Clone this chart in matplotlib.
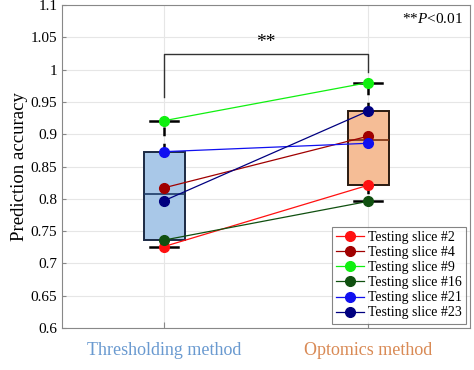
import numpy as np
import matplotlib
matplotlib.use('Agg')
import matplotlib.pyplot as plt

plt.rcParams['font.family'] = ['Liberation Serif', 'DejaVu Serif']
plt.rcParams['mathtext.fontset'] = 'custom'
plt.rcParams['mathtext.it'] = 'Liberation Serif:italic'
plt.rcParams['mathtext.rm'] = 'Liberation Serif'

# Data
methods = ['Thresholding method', 'Optomics method']
slices = ['Testing slice #2', 'Testing slice #4', 'Testing slice #9',
          'Testing slice #16', 'Testing slice #21', 'Testing slice #23']
thresholding = [0.726, 0.817, 0.921, 0.736, 0.873, 0.797]
optomics = [0.821, 0.897, 0.980, 0.796, 0.886, 0.936]
slice_colors = ['#ff1010', '#a00000', '#10f010', '#105010', '#1010f0', '#000080']

box_fill = ['#a9c8e8', '#f5bd96']
box_edge = ['#1c2a44', '#2a1a10']
median_col = ['#1c3a66', '#7a3010']
label_col = ['#6a9ad0', '#d98a55']

fig = plt.figure(figsize=(4.74, 3.70), dpi=100)
ax = fig.add_axes([0.131, 0.114, 0.861, 0.872])

pos = [1, 2]
for k, vals in enumerate([thresholding, optomics]):
    v = np.array(vals)
    # MATLAB-style quartiles
    q1, med, q3 = np.percentile(v, [25, 50, 75], method='hazen')
    stats = [dict(med=med, q1=q1, q3=q3, whislo=v.min(), whishi=v.max(), fliers=[])]
    ax.bxp(stats, positions=[pos[k]], widths=0.2, patch_artist=True,
           boxprops=dict(facecolor=box_fill[k], edgecolor=box_edge[k], linewidth=1.4),
           medianprops=dict(color=median_col[k], linewidth=1.2),
           whiskerprops=dict(color='black', linestyle=(0, (3.5, 3)), linewidth=1.8),
           capprops=dict(color='black', linewidth=1.8), capwidths=0.14,
           manage_ticks=False, zorder=2)

for i, name in enumerate(slices):
    ax.plot(pos, [thresholding[i], optomics[i]], '-o', color=slice_colors[i],
            lw=0.9, ms=7, label=name, zorder=3)

# significance bracket
ax.plot([1, 1, 2, 2], [0.957, 1.024, 1.024, 0.996], color='#333333', lw=1.0)
ax.text(1.5, 1.029, '**', ha='center', va='bottom', fontsize=14)
ax.text(0.982, 0.98, r'**$P$<0.01', transform=ax.transAxes, ha='right', va='top',
        fontsize=11)

ax.set_xlim(0.5, 2.5)
ax.set_ylim(0.6, 1.1)
ax.set_yticks(np.arange(0.6, 1.101, 0.05))
ax.set_yticklabels(['0.6', '0.65', '0.7', '0.75', '0.8', '0.85', '0.9', '0.95', '1', '1.05', '1.1'])
ax.set_xticks(pos)
ax.set_xticklabels(methods, fontsize=13)
for t, c in zip(ax.get_xticklabels(), label_col):
    t.set_color(c)
ax.tick_params(axis='x', direction='in', pad=10, length=4, color='#888888')
ax.tick_params(axis='y', direction='in', labelsize=11, length=3, color='#888888')
ax.set_ylabel('Prediction accuracy', fontsize=13.5, labelpad=2)
ax.grid(True, color='#e6e6e6', lw=0.8)
ax.set_axisbelow(True)
for s in ax.spines.values():
    s.set_color('#888888')

leg = ax.legend(loc='lower right', fontsize=10, frameon=True, fancybox=False,
                edgecolor='#666666', handlelength=2.0, borderpad=0.3,
                labelspacing=0.15, handletextpad=0.3, borderaxespad=0.3)
leg.get_frame().set_linewidth(0.8)

fig.savefig('out.png', dpi=100)
